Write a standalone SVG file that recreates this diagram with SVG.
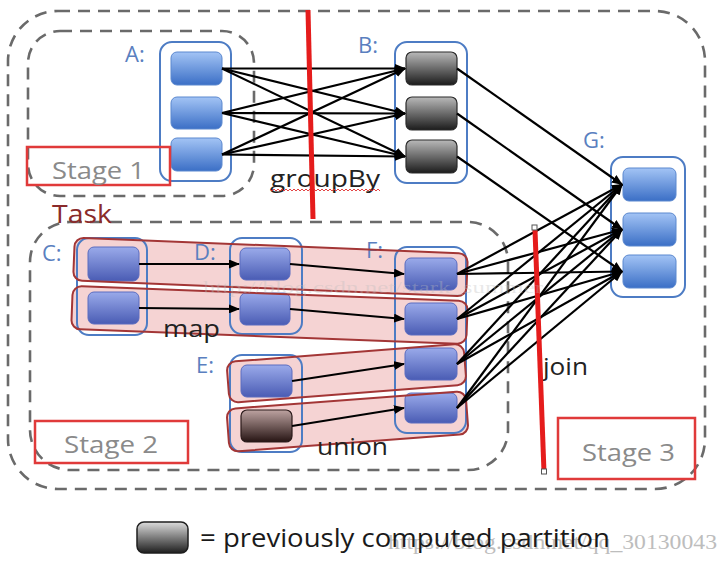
<svg xmlns="http://www.w3.org/2000/svg" width="727" height="562" viewBox="0 0 727 562">
<defs>
<linearGradient id="gBlue" x1="0" y1="0" x2="0" y2="1"><stop offset="0" stop-color="#a3c4f5"/><stop offset="1" stop-color="#3b6fc6"/></linearGradient>
<linearGradient id="gPurple" x1="0" y1="0" x2="0" y2="1"><stop offset="0" stop-color="#9aaaea"/><stop offset="1" stop-color="#4a5cb4"/></linearGradient>
<linearGradient id="gGray" x1="0" y1="0" x2="0" y2="1"><stop offset="0" stop-color="#b9b9b9"/><stop offset="1" stop-color="#1c1c1c"/></linearGradient>
<linearGradient id="gBrown" x1="0" y1="0" x2="0" y2="1"><stop offset="0" stop-color="#bda3a1"/><stop offset="1" stop-color="#261413"/></linearGradient>
<linearGradient id="gLegend" x1="0" y1="0" x2="0" y2="1"><stop offset="0" stop-color="#dcdcdc"/><stop offset="1" stop-color="#1e1e1e"/></linearGradient>
<marker id="ah" markerWidth="11" markerHeight="9" refX="10" refY="4.5" orient="auto" markerUnits="userSpaceOnUse"><path d="M0,0 L11,4.5 L0,9 z" fill="#000"/></marker>
<pattern id="wave" width="4" height="4" patternUnits="userSpaceOnUse"><path d="M0,3 L2,1 L4,3" fill="none" stroke="#e03030" stroke-width="0.9"/></pattern>
</defs>
<style>
.dash{fill:none;stroke:#6a6a6a;stroke-width:2.6;stroke-dasharray:12 8}
.cont{fill:#fff;stroke:#4d7cc4;stroke-width:2}
.cont2{fill:none;stroke:#4d7cc4;stroke-width:2}
.pb{fill:url(#gBlue);stroke:#5b88cf;stroke-width:1}
.pp{fill:url(#gPurple);stroke:#5a6cc0;stroke-width:1}
.pg{fill:url(#gGray);stroke:#2a2a2a;stroke-width:1.2}
.bandfill{fill:#f1c4c4;fill-opacity:0.75;stroke:none}
.bandline{fill:none;stroke:#a33636;stroke-width:2}
.lbl{font-family:"Open Sans","Liberation Sans",sans-serif;font-size:22px;fill:#5a7fbf}
.stg{font-family:"Open Sans","Liberation Sans",sans-serif;font-size:24px;fill:#8a8a8a}
.redbox{fill:none;stroke:#e03a3a;stroke-width:2.5}
.op{font-family:"Open Sans","Liberation Sans",sans-serif;font-size:24px;fill:#222}
.cut{stroke:#e51c1c;stroke-width:5;stroke-linecap:butt}
.handle{fill:#fff;stroke:#555;stroke-width:1}
.conn line{stroke:#000;stroke-width:2.2;marker-end:url(#ah)}
.wm{font-family:"Liberation Serif",serif;fill:#bdbdbd}
</style>

<g id="stage-frames">
<rect class="dash" x="8" y="11" width="697" height="478" rx="50"/>
<rect class="dash" x="28" y="31" width="226" height="165" rx="32"/>
<rect class="dash" x="30" y="222" width="478" height="248" rx="40"/>
</g>

<g id="task-fills">
<rect class="bandfill" x="73.8" y="245.5" width="393.4" height="43" rx="9" transform="rotate(2.33 270.5 267)"/>
<rect class="bandfill" x="71.85" y="293.5" width="395.3" height="43" rx="9" transform="rotate(2.17 269.5 315)"/>
<rect class="bandfill" x="227.65" y="352.75" width="237.7" height="41" rx="9" transform="rotate(-4.46 346.5 373.25)"/>
<rect class="bandfill" x="227.65" y="400" width="239.7" height="43" rx="9" transform="rotate(-4.31 347.5 421.5)"/>
</g>

<g id="node-A">
<text class="lbl" x="125" y="62">A:</text>
<rect class="cont" x="160" y="42" width="71" height="139" rx="12"/>
<rect class="pb" x="171" y="52" width="51" height="33" rx="6"/>
<rect class="pb" x="171" y="97" width="51" height="32" rx="6"/>
<rect class="pb" x="171" y="138" width="51" height="33" rx="6"/>
</g>

<g id="node-B">
<text class="lbl" x="358" y="53">B:</text>
<rect class="cont" x="395" y="42" width="72" height="141" rx="12"/>
<rect class="pg" x="406" y="52" width="51" height="33" rx="6"/>
<rect class="pg" x="406" y="97" width="51" height="33" rx="6"/>
<rect class="pg" x="406" y="140" width="51" height="33" rx="6"/>
</g>

<g id="node-G">
<text class="lbl" x="583" y="148">G:</text>
<rect class="cont" x="611" y="157" width="74" height="140" rx="12"/>
<rect class="pb" x="623" y="168" width="53" height="33" rx="6"/>
<rect class="pb" x="623" y="213" width="53" height="33" rx="6"/>
<rect class="pb" x="623" y="255" width="53" height="33" rx="6"/>
</g>

<g id="node-C">
<text class="lbl" x="42" y="261">C:</text>
<rect class="cont2" x="77" y="238" width="70" height="97" rx="12"/>
<rect class="pp" x="88" y="247" width="51" height="34" rx="6"/>
<rect class="pp" x="88" y="292" width="51" height="32" rx="6"/>
</g>

<g id="node-D">
<text class="lbl" x="194" y="260">D:</text>
<rect class="cont2" x="230" y="238" width="72" height="96" rx="12"/>
<rect class="pp" x="240" y="248" width="50" height="32" rx="6"/>
<rect class="pp" x="240" y="293" width="50" height="32" rx="6"/>
</g>

<g id="node-E">
<text class="lbl" x="196" y="373">E:</text>
<rect class="cont2" x="230" y="355" width="72" height="97" rx="12"/>
<rect class="pp" x="241" y="365" width="51" height="32" rx="6"/>
<rect x="241" y="410" width="51" height="32" rx="6" fill="url(#gBrown)" stroke="#2a1a1a" stroke-width="1.2"/>
</g>

<g id="node-F">
<text class="lbl" x="366" y="258">F:</text>
<rect class="cont2" x="395" y="247" width="71" height="186" rx="12"/>
<rect class="pp" x="405" y="258" width="52" height="32" rx="6"/>
<rect class="pp" x="405" y="303" width="52" height="32" rx="6"/>
<rect class="pp" x="405" y="348" width="52" height="32" rx="6"/>
<rect class="pp" x="405" y="393" width="52" height="30" rx="6"/>
</g>

<g id="task-outlines">
<rect class="bandline" x="73.8" y="245.5" width="393.4" height="43" rx="9" transform="rotate(2.33 270.5 267)"/>
<rect class="bandline" x="71.85" y="293.5" width="395.3" height="43" rx="9" transform="rotate(2.17 269.5 315)"/>
<rect class="bandline" x="227.65" y="352.75" width="237.7" height="41" rx="9" transform="rotate(-4.46 346.5 373.25)"/>
<rect class="bandline" x="227.65" y="400" width="239.7" height="43" rx="9" transform="rotate(-4.31 347.5 421.5)"/>
</g>

<g id="connectors" class="conn">
<line x1="222" y1="68.5" x2="405" y2="68.5"/>
<line x1="222" y1="68.5" x2="405" y2="113.5"/>
<line x1="222" y1="68.5" x2="405" y2="156.5"/>
<line x1="222" y1="113" x2="405" y2="68.5"/>
<line x1="222" y1="113" x2="405" y2="113.5"/>
<line x1="222" y1="113" x2="405" y2="156.5"/>
<line x1="222" y1="154.5" x2="405" y2="68.5"/>
<line x1="222" y1="154.5" x2="405" y2="113.5"/>
<line x1="222" y1="154.5" x2="405" y2="156.5"/>
<line x1="457" y1="68.5" x2="622" y2="184.5"/>
<line x1="457" y1="113.5" x2="622" y2="229.5"/>
<line x1="457" y1="156.5" x2="622" y2="271.5"/>
<line x1="457" y1="274" x2="622" y2="184.5"/>
<line x1="457" y1="274" x2="622" y2="229.5"/>
<line x1="457" y1="274" x2="622" y2="271.5"/>
<line x1="457" y1="319" x2="622" y2="184.5"/>
<line x1="457" y1="319" x2="622" y2="229.5"/>
<line x1="457" y1="319" x2="622" y2="271.5"/>
<line x1="457" y1="364" x2="622" y2="184.5"/>
<line x1="457" y1="364" x2="622" y2="229.5"/>
<line x1="457" y1="364" x2="622" y2="271.5"/>
<line x1="457" y1="408" x2="622" y2="184.5"/>
<line x1="457" y1="408" x2="622" y2="229.5"/>
<line x1="457" y1="408" x2="622" y2="271.5"/>
<line x1="139" y1="264" x2="239" y2="264"/>
<line x1="139" y1="308" x2="239" y2="309"/>
<line x1="290" y1="264" x2="404" y2="274"/>
<line x1="290" y1="309" x2="404" y2="319"/>
<line x1="292" y1="381" x2="404" y2="364"/>
<line x1="292" y1="426" x2="404" y2="408"/>
</g>

<g id="labels">
<text class="op" x="270" y="187" textLength="110" lengthAdjust="spacingAndGlyphs">groupBy</text>
<rect x="270" y="189" width="110" height="4" fill="url(#wave)"/>
<text class="op" x="163" y="337" font-size="26" textLength="57" lengthAdjust="spacingAndGlyphs">map</text>
<text class="op" x="317" y="455" textLength="71" lengthAdjust="spacingAndGlyphs">union</text>
<text class="op" x="543" y="375" textLength="45" lengthAdjust="spacingAndGlyphs">join</text>
<text x="52" y="223" font-family="Open Sans, Liberation Sans, sans-serif" font-size="26" fill="#8a2b2b" textLength="60" lengthAdjust="spacingAndGlyphs">Task</text>
</g>

<g id="stage-labels">
<rect class="redbox" x="27" y="147" width="143" height="38"/>
<text class="stg" x="52" y="179" textLength="93" lengthAdjust="spacingAndGlyphs">Stage 1</text>
<rect class="redbox" x="35" y="421" width="153" height="42"/>
<text class="stg" x="64" y="453" textLength="94" lengthAdjust="spacingAndGlyphs">Stage 2</text>
<rect class="redbox" x="558" y="418" width="137" height="61"/>
<text class="stg" x="582" y="461" textLength="93" lengthAdjust="spacingAndGlyphs">Stage 3</text>
</g>

<g id="cuts">
<line class="cut" x1="308" y1="10" x2="313" y2="219"/>
<line class="cut" x1="535" y1="230" x2="544" y2="472"/>
<rect class="handle" x="532" y="225" width="5" height="5"/>
<rect class="handle" x="541.5" y="469" width="5" height="5"/>
</g>

<g id="watermarks">
<text class="wm" x="203" y="293" font-family="Liberation Mono, monospace" font-size="17" fill-opacity="0.35" textLength="340" lengthAdjust="spacingAndGlyphs">http://blog.csdn.net/stark_summer</text>
<text class="wm" x="388" y="549" font-size="21" textLength="329" lengthAdjust="spacingAndGlyphs">https://blog.csdn.net/qq_30130043</text>
</g>

<g id="legend">
<rect x="137" y="522" width="51" height="31" rx="7" fill="url(#gLegend)" stroke="#1e1e1e" stroke-width="1.5"/>
<text x="200" y="547" font-family="Open Sans, Liberation Sans, sans-serif" font-size="26" fill="#1a1a1a" textLength="410" lengthAdjust="spacingAndGlyphs">= previously computed partition</text>
</g>
</svg>
